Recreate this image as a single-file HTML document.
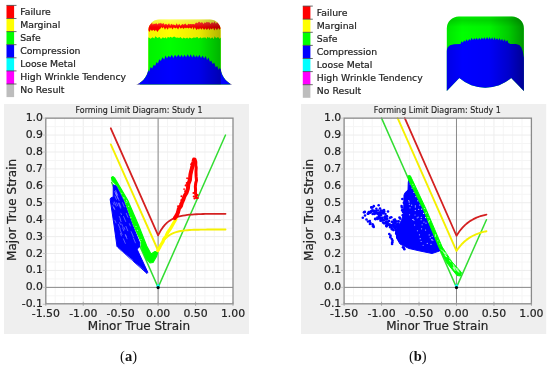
<!DOCTYPE html>
<html><head><meta charset="utf-8"><style>
html,body{margin:0;padding:0;background:#fff;}
svg{display:block;}
text{stroke:#222;stroke-width:0.2px;paint-order:stroke;}
</style></head><body>
<svg width="550" height="367" viewBox="0 0 550 367" font-family="'DejaVu Sans', 'Liberation Sans', sans-serif">
<rect width="550" height="367" fill="#fff"/>
<rect x="6.50" y="5.40" width="7.6" height="13.10" fill="#ff0000"/>
<text x="20.20" y="14.80" font-size="9.3" fill="#222">Failure</text>
<rect x="6.50" y="18.50" width="7.6" height="13.10" fill="#ffff00"/>
<text x="20.20" y="27.90" font-size="9.3" fill="#222">Marginal</text>
<rect x="6.50" y="31.60" width="7.6" height="13.10" fill="#00ff00"/>
<text x="20.20" y="41.00" font-size="9.3" fill="#222">Safe</text>
<rect x="6.50" y="44.70" width="7.6" height="13.10" fill="#0000ff"/>
<text x="20.20" y="54.10" font-size="9.3" fill="#222">Compression</text>
<rect x="6.50" y="57.80" width="7.6" height="13.10" fill="#00ffff"/>
<text x="20.20" y="67.20" font-size="9.3" fill="#222">Loose Metal</text>
<rect x="6.50" y="70.90" width="7.6" height="13.10" fill="#ff00ff"/>
<text x="20.20" y="80.30" font-size="9.3" fill="#222">High Wrinkle Tendency</text>
<rect x="6.50" y="84.00" width="7.6" height="13.10" fill="#bdbdbd"/>
<text x="20.20" y="93.40" font-size="9.3" fill="#222">No Result</text>
<line x1="6.50" y1="5.40" x2="16.50" y2="5.40" stroke="#444" stroke-width="0.8"/>
<line x1="6.50" y1="18.50" x2="16.50" y2="18.50" stroke="#444" stroke-width="0.8"/>
<line x1="6.50" y1="31.60" x2="16.50" y2="31.60" stroke="#444" stroke-width="0.8"/>
<line x1="6.50" y1="44.70" x2="16.50" y2="44.70" stroke="#444" stroke-width="0.8"/>
<line x1="6.50" y1="57.80" x2="16.50" y2="57.80" stroke="#444" stroke-width="0.8"/>
<line x1="6.50" y1="70.90" x2="16.50" y2="70.90" stroke="#444" stroke-width="0.8"/>
<line x1="6.50" y1="84.00" x2="16.50" y2="84.00" stroke="#444" stroke-width="0.8"/>
<rect x="302.80" y="6.10" width="7.6" height="13.10" fill="#ff0000"/>
<text x="316.80" y="15.50" font-size="9.3" fill="#222">Failure</text>
<rect x="302.80" y="19.20" width="7.6" height="13.10" fill="#ffff00"/>
<text x="316.80" y="28.60" font-size="9.3" fill="#222">Marginal</text>
<rect x="302.80" y="32.30" width="7.6" height="13.10" fill="#00ff00"/>
<text x="316.80" y="41.70" font-size="9.3" fill="#222">Safe</text>
<rect x="302.80" y="45.40" width="7.6" height="13.10" fill="#0000ff"/>
<text x="316.80" y="54.80" font-size="9.3" fill="#222">Compression</text>
<rect x="302.80" y="58.50" width="7.6" height="13.10" fill="#00ffff"/>
<text x="316.80" y="67.90" font-size="9.3" fill="#222">Loose Metal</text>
<rect x="302.80" y="71.60" width="7.6" height="13.10" fill="#ff00ff"/>
<text x="316.80" y="81.00" font-size="9.3" fill="#222">High Wrinkle Tendency</text>
<rect x="302.80" y="84.70" width="7.6" height="13.10" fill="#bdbdbd"/>
<text x="316.80" y="94.10" font-size="9.3" fill="#222">No Result</text>
<line x1="302.80" y1="6.10" x2="312.80" y2="6.10" stroke="#444" stroke-width="0.8"/>
<line x1="302.80" y1="19.20" x2="312.80" y2="19.20" stroke="#444" stroke-width="0.8"/>
<line x1="302.80" y1="32.30" x2="312.80" y2="32.30" stroke="#444" stroke-width="0.8"/>
<line x1="302.80" y1="45.40" x2="312.80" y2="45.40" stroke="#444" stroke-width="0.8"/>
<line x1="302.80" y1="58.50" x2="312.80" y2="58.50" stroke="#444" stroke-width="0.8"/>
<line x1="302.80" y1="71.60" x2="312.80" y2="71.60" stroke="#444" stroke-width="0.8"/>
<line x1="302.80" y1="84.70" x2="312.80" y2="84.70" stroke="#444" stroke-width="0.8"/>
<defs><clipPath id="cl1"><path d="M148.3,68.6 L148.3,30.6 A11,11 0 0 1 159.3,19.6 L209.8,19.6 A11,11 0 0 1 220.8,30.6 L220.8,68.6 C220.8,77.6 229.8,84.6 232.6,84.6 L136.0,84.6 C139.3,84.6 148.3,77.6 148.3,68.6 Z"/></clipPath><linearGradient id="shL" x1="0" x2="1" y1="0" y2="0"><stop offset="0" stop-color="#000" stop-opacity="0.05"/><stop offset="0.3" stop-color="#000" stop-opacity="0"/><stop offset="0.7" stop-color="#000" stop-opacity="0.08"/><stop offset="1" stop-color="#000" stop-opacity="0.3"/></linearGradient><linearGradient id="topL" x1="0" x2="0" y1="0" y2="1"><stop offset="0" stop-color="#fff" stop-opacity="0.55"/><stop offset="1" stop-color="#fff" stop-opacity="0"/></linearGradient></defs>
<g clip-path="url(#cl1)">
<rect x="130" y="15" width="110" height="75" fill="#ffff00"/>
<polygon points="140.00,23.15 140.94,24.51 141.79,22.85 142.95,23.68 144.26,23.55 145.49,23.70 146.37,23.01 148.01,23.77 149.02,22.72 150.78,24.41 151.98,22.23 152.80,24.80 153.89,23.40 154.79,24.03 156.42,23.35 157.80,24.49 158.97,22.83 159.81,23.68 160.81,22.65 162.03,24.04 163.42,22.97 164.51,24.71 166.02,23.72 167.40,24.88 169.09,23.23 170.17,25.68 171.07,23.77 172.64,24.64 173.93,24.43 175.40,25.60 176.78,23.34 177.88,25.56 179.28,23.79 180.54,25.78 182.30,23.92 183.77,24.64 185.28,23.60 187.09,25.59 188.17,23.85 189.64,24.35 190.90,24.01 191.81,24.28 193.38,23.92 194.42,24.58 196.11,22.49 197.36,23.37 199.05,21.45 200.73,22.99 201.94,22.10 203.64,23.94 204.58,22.35 205.60,22.93 206.89,21.78 207.94,22.61 209.16,22.08 210.52,23.93 212.02,21.88 213.44,23.55 214.28,21.34 215.87,23.82 217.48,22.05 218.68,22.74 220.12,22.51 220.97,22.89 221.92,22.12 222.75,22.60 223.69,22.46 224.85,22.64 226.53,21.74 227.47,22.95 228.61,22.09 229.52,23.79 230.00,22.60 230.00,28.60 228.52,28.18 227.24,30.03 225.86,28.21 224.61,30.26 223.40,28.53 221.96,30.19 220.71,28.42 219.61,29.75 218.32,27.88 216.87,30.18 215.61,28.06 214.32,30.42 213.09,27.94 211.63,29.41 210.60,28.15 209.69,30.13 208.42,28.20 206.87,29.99 205.34,28.27 204.12,29.90 202.58,27.90 201.39,29.76 200.08,27.99 198.97,29.75 197.93,28.46 196.42,30.01 194.86,27.22 193.51,29.76 192.60,26.90 191.31,28.89 189.95,27.58 188.48,28.60 187.01,27.52 186.01,28.58 184.99,27.38 183.42,28.96 182.25,27.58 180.79,28.87 179.33,26.94 178.10,29.45 176.65,27.53 175.29,28.52 173.83,27.32 172.59,29.58 171.06,27.30 170.02,28.68 168.96,26.98 167.81,29.74 166.21,27.55 165.00,29.74 163.62,27.01 162.52,28.44 161.60,27.08 160.34,28.72 158.92,29.85 157.46,31.99 155.87,29.85 154.81,31.26 153.37,29.63 151.92,31.03 150.77,29.41 149.38,32.01 147.80,29.62 146.88,31.56 145.87,29.62 144.31,30.83 143.30,29.86 142.21,31.28 141.24,29.27 140.00,31.45" fill="#ff0000"/>
<polygon points="140.00,36.55 141.95,39.01 143.16,36.76 145.20,38.86 146.26,37.42 147.69,37.71 148.88,37.49 150.58,38.78 152.56,37.37 154.32,38.59 155.39,36.28 157.45,37.93 159.49,37.00 160.98,39.08 162.88,37.36 164.30,38.37 165.60,37.31 166.88,38.68 167.81,36.77 169.24,37.63 170.53,36.66 172.05,37.70 174.13,36.42 176.20,37.76 177.42,37.54 179.25,38.01 180.31,36.97 182.30,38.83 183.51,37.38 185.51,38.46 187.25,37.47 188.22,38.63 189.63,37.49 191.66,38.55 193.52,37.47 195.45,37.70 197.38,36.92 198.69,38.43 200.70,37.20 201.76,38.39 202.94,37.44 204.04,37.68 205.18,37.13 206.45,38.74 207.69,36.85 208.81,38.12 209.73,37.22 210.65,38.70 212.21,37.32 213.68,39.00 214.71,36.37 216.12,38.34 218.03,37.01 219.53,38.63 221.61,37.09 223.51,38.66 225.18,36.99 226.49,37.68 227.55,37.49 229.34,37.98 230.00,37.60 230.00,90.00 140.00,90.00" fill="#00ff00"/>
<polygon points="135.00,71.12 136.68,73.13 138.28,70.60 139.69,73.24 141.20,70.44 142.70,72.96 144.43,69.31 145.98,72.66 147.71,69.65 149.17,71.73 150.64,67.08 152.17,68.60 153.70,64.64 155.11,65.98 156.59,62.05 157.90,63.54 159.31,59.36 160.85,61.07 162.44,57.22 164.14,59.39 165.59,55.62 166.95,58.45 168.54,55.82 170.22,57.57 171.80,54.68 173.47,57.94 175.00,54.75 176.68,57.31 178.35,54.51 180.05,57.24 181.66,54.71 182.98,57.48 184.44,54.70 186.12,57.18 187.70,54.32 189.30,57.37 190.61,54.28 192.24,57.50 193.78,54.56 195.11,57.46 196.53,55.27 197.95,57.60 199.34,54.73 201.08,58.09 202.55,55.57 204.16,58.56 205.74,56.10 207.07,60.07 208.48,57.62 209.92,61.68 211.23,60.49 212.65,64.08 214.26,62.78 215.69,67.23 217.20,65.90 218.55,69.76 219.94,67.76 221.66,71.59 223.17,68.23 224.91,71.60 226.33,69.15 228.05,72.08 229.61,69.53 231.15,71.86 232.51,69.14 234.04,72.19 235.00,71.00 235.00,90.00 135.00,90.00" fill="#0000ff"/>
<rect x="130" y="15" width="110" height="12" fill="url(#topL)"/>
<rect x="148.3" y="15" width="72.5" height="75" fill="url(#shL)"/>
</g>
<defs><clipPath id="cl2"><path d="M446.8,90.9 L446.8,28.4 A12,12 0 0 1 458.8,16.4 L511.9,16.4 A12,12 0 0 1 523.9,28.4 L523.9,90.9 L511.2,78.1 A40 40 0 0 1 459.3,78.1 Z"/></clipPath><linearGradient id="shR" x1="0" x2="1" y1="0" y2="0"><stop offset="0" stop-color="#000" stop-opacity="0.1"/><stop offset="0.2" stop-color="#000" stop-opacity="0"/><stop offset="0.55" stop-color="#000" stop-opacity="0.03"/><stop offset="0.8" stop-color="#000" stop-opacity="0.2"/><stop offset="1" stop-color="#000" stop-opacity="0.42"/></linearGradient><linearGradient id="tpR" x1="0" x2="0" y1="0" y2="1"><stop offset="0" stop-color="#000" stop-opacity="0.04"/><stop offset="0.3" stop-color="#000" stop-opacity="0.14"/><stop offset="0.65" stop-color="#000" stop-opacity="0.02"/><stop offset="1" stop-color="#000" stop-opacity="0"/></linearGradient></defs>
<g clip-path="url(#cl2)">
<rect x="440" y="10" width="90" height="85" fill="#00ff00"/>
<rect x="440" y="15" width="90" height="18" fill="url(#tpR)"/>
<polygon points="440.00,52.00 446.50,50.50 447.80,47.20 450.00,45.20 454.00,44.20 460.50,44.00 461.50,41.30 462.87,42.71 464.03,40.23 465.30,41.84 466.53,39.37 467.77,41.27 469.13,38.92 470.46,40.55 471.64,37.76 472.97,40.17 474.19,37.89 475.44,39.86 476.74,37.65 478.00,39.94 479.16,37.70 480.52,39.79 481.90,37.46 483.12,39.62 484.31,37.31 485.70,39.45 487.06,37.11 488.43,39.46 489.72,37.10 490.88,39.63 492.15,37.19 493.46,39.97 494.62,37.23 495.80,40.09 497.04,37.97 498.37,40.18 499.59,38.01 500.81,40.71 502.06,38.82 503.25,41.31 504.63,39.13 505.83,41.70 507.23,39.97 508.42,42.97 510.50,43.90 516.00,44.10 519.30,45.00 521.30,47.30 522.80,51.50 523.80,57.00 525.00,60.00 525.00,95.00 440.00,95.00" fill="#0000ff"/>
<rect x="446.8" y="10" width="77.09999999999997" height="85" fill="url(#shR)"/>
</g>
<rect x="4.00" y="104.00" width="245.00" height="230.00" fill="#efefef"/>
<rect x="45.80" y="118.15" width="187.20" height="185.65" fill="#fff"/>
<line x1="55.16" y1="118.15" x2="55.16" y2="303.80" stroke="#f5f5f5" stroke-width="1"/>
<line x1="64.52" y1="118.15" x2="64.52" y2="303.80" stroke="#f5f5f5" stroke-width="1"/>
<line x1="73.88" y1="118.15" x2="73.88" y2="303.80" stroke="#f5f5f5" stroke-width="1"/>
<line x1="83.24" y1="118.15" x2="83.24" y2="303.80" stroke="#ededed" stroke-width="1"/>
<line x1="92.60" y1="118.15" x2="92.60" y2="303.80" stroke="#f5f5f5" stroke-width="1"/>
<line x1="101.96" y1="118.15" x2="101.96" y2="303.80" stroke="#f5f5f5" stroke-width="1"/>
<line x1="111.32" y1="118.15" x2="111.32" y2="303.80" stroke="#f5f5f5" stroke-width="1"/>
<line x1="120.68" y1="118.15" x2="120.68" y2="303.80" stroke="#ededed" stroke-width="1"/>
<line x1="130.04" y1="118.15" x2="130.04" y2="303.80" stroke="#f5f5f5" stroke-width="1"/>
<line x1="139.40" y1="118.15" x2="139.40" y2="303.80" stroke="#f5f5f5" stroke-width="1"/>
<line x1="148.76" y1="118.15" x2="148.76" y2="303.80" stroke="#f5f5f5" stroke-width="1"/>
<line x1="158.12" y1="118.15" x2="158.12" y2="303.80" stroke="#ededed" stroke-width="1"/>
<line x1="167.48" y1="118.15" x2="167.48" y2="303.80" stroke="#f5f5f5" stroke-width="1"/>
<line x1="176.84" y1="118.15" x2="176.84" y2="303.80" stroke="#f5f5f5" stroke-width="1"/>
<line x1="186.20" y1="118.15" x2="186.20" y2="303.80" stroke="#f5f5f5" stroke-width="1"/>
<line x1="195.56" y1="118.15" x2="195.56" y2="303.80" stroke="#ededed" stroke-width="1"/>
<line x1="204.92" y1="118.15" x2="204.92" y2="303.80" stroke="#f5f5f5" stroke-width="1"/>
<line x1="214.28" y1="118.15" x2="214.28" y2="303.80" stroke="#f5f5f5" stroke-width="1"/>
<line x1="223.64" y1="118.15" x2="223.64" y2="303.80" stroke="#f5f5f5" stroke-width="1"/>
<line x1="45.80" y1="295.84" x2="233.00" y2="295.84" stroke="#f5f5f5" stroke-width="1"/>
<line x1="45.80" y1="287.38" x2="233.00" y2="287.38" stroke="#ededed" stroke-width="1"/>
<line x1="45.80" y1="278.92" x2="233.00" y2="278.92" stroke="#f5f5f5" stroke-width="1"/>
<line x1="45.80" y1="270.45" x2="233.00" y2="270.45" stroke="#ededed" stroke-width="1"/>
<line x1="45.80" y1="261.99" x2="233.00" y2="261.99" stroke="#f5f5f5" stroke-width="1"/>
<line x1="45.80" y1="253.53" x2="233.00" y2="253.53" stroke="#ededed" stroke-width="1"/>
<line x1="45.80" y1="245.07" x2="233.00" y2="245.07" stroke="#f5f5f5" stroke-width="1"/>
<line x1="45.80" y1="236.61" x2="233.00" y2="236.61" stroke="#ededed" stroke-width="1"/>
<line x1="45.80" y1="228.15" x2="233.00" y2="228.15" stroke="#f5f5f5" stroke-width="1"/>
<line x1="45.80" y1="219.69" x2="233.00" y2="219.69" stroke="#ededed" stroke-width="1"/>
<line x1="45.80" y1="211.23" x2="233.00" y2="211.23" stroke="#f5f5f5" stroke-width="1"/>
<line x1="45.80" y1="202.76" x2="233.00" y2="202.76" stroke="#ededed" stroke-width="1"/>
<line x1="45.80" y1="194.30" x2="233.00" y2="194.30" stroke="#f5f5f5" stroke-width="1"/>
<line x1="45.80" y1="185.84" x2="233.00" y2="185.84" stroke="#ededed" stroke-width="1"/>
<line x1="45.80" y1="177.38" x2="233.00" y2="177.38" stroke="#f5f5f5" stroke-width="1"/>
<line x1="45.80" y1="168.92" x2="233.00" y2="168.92" stroke="#ededed" stroke-width="1"/>
<line x1="45.80" y1="160.46" x2="233.00" y2="160.46" stroke="#f5f5f5" stroke-width="1"/>
<line x1="45.80" y1="152.00" x2="233.00" y2="152.00" stroke="#ededed" stroke-width="1"/>
<line x1="45.80" y1="143.53" x2="233.00" y2="143.53" stroke="#f5f5f5" stroke-width="1"/>
<line x1="45.80" y1="135.07" x2="233.00" y2="135.07" stroke="#ededed" stroke-width="1"/>
<line x1="45.80" y1="126.61" x2="233.00" y2="126.61" stroke="#f5f5f5" stroke-width="1"/>
<line x1="158.12" y1="118.15" x2="158.12" y2="303.80" stroke="#8a8a8a" stroke-width="1"/>
<line x1="45.80" y1="287.38" x2="233.00" y2="287.38" stroke="#8a8a8a" stroke-width="1"/>
<polyline points="111.69,182.46 158.12,287.38 225.51,135.07" fill="none" stroke="#33dd33" stroke-width="1.5" stroke-linejoin="round" stroke-linecap="round"/>
<polyline points="110.80,128.30 158.12,235.42 160.37,231.11 162.61,227.65 164.86,224.88 167.11,222.67 169.35,220.89 171.60,219.47 173.84,218.34 176.09,217.42 178.34,216.69 180.58,216.11 182.83,215.64 185.08,215.27 187.32,214.97 189.57,214.73 191.82,214.54 194.06,214.38 196.31,214.26 198.56,214.16 200.80,214.08 203.05,214.02 205.29,213.97 207.54,213.93 209.79,213.89 212.03,213.87 214.28,213.85 216.53,213.83 218.77,213.82 221.02,213.81 223.27,213.80 225.51,213.79" fill="none" stroke="#d42020" stroke-width="1.8" stroke-linejoin="round" stroke-linecap="round"/>
<polyline points="110.80,144.38 158.12,250.49 160.37,245.67 162.61,241.96 164.86,239.10 167.11,236.89 169.35,235.20 171.60,233.89 173.84,232.88 176.09,232.10 178.34,231.51 180.58,231.05 182.83,230.69 185.08,230.42 187.32,230.21 189.57,230.05 191.82,229.92 194.06,229.82 196.31,229.75 198.56,229.69 200.80,229.65 203.05,229.62 205.29,229.59 207.54,229.57 209.79,229.55 212.03,229.54 214.28,229.53 216.53,229.53 218.77,229.52 221.02,229.52 223.27,229.51 225.51,229.51" fill="none" stroke="#f5f000" stroke-width="1.9" stroke-linejoin="round" stroke-linecap="round"/>
<polygon points="113.20,184.80 116.50,186.00 123.50,200.00 132.50,225.00 139.80,243.00 139.60,247.00 137.00,249.00 147.80,272.30 147.00,273.50 118.00,247.50 117.00,246.50 115.80,238.00 114.00,225.00 110.20,199.50 110.50,198.20 113.20,196.80" fill="#0000ff" stroke="#0000ff" stroke-width="1" stroke-linejoin="round"/>
<polygon points="111.50,177.60 113.00,176.60 114.80,178.20 127.60,200.00 138.40,225.00 146.70,246.00 151.00,254.00 155.00,251.50 157.80,252.30 156.50,256.50 153.00,262.50 150.00,262.80 146.50,259.00 142.00,249.00 140.80,241.00 133.60,225.00 124.60,200.00 117.60,186.00 112.00,180.50" fill="#00ff00" stroke="#00ff00" stroke-width="1.2" stroke-linejoin="round"/>
<line x1="113.76" y1="207.10" x2="115.00" y2="210.05" stroke="#a4a4ff" stroke-width="0.55"/>
<line x1="118.33" y1="202.92" x2="120.66" y2="208.47" stroke="#a4a4ff" stroke-width="0.55"/>
<line x1="122.40" y1="227.48" x2="123.94" y2="231.14" stroke="#a4a4ff" stroke-width="0.55"/>
<line x1="119.22" y1="216.21" x2="120.63" y2="219.56" stroke="#a4a4ff" stroke-width="0.55"/>
<line x1="115.62" y1="193.10" x2="118.09" y2="198.97" stroke="#a4a4ff" stroke-width="0.55"/>
<line x1="117.34" y1="196.29" x2="119.24" y2="200.81" stroke="#a4a4ff" stroke-width="0.55"/>
<line x1="120.33" y1="233.14" x2="121.62" y2="236.23" stroke="#a4a4ff" stroke-width="0.55"/>
<line x1="116.35" y1="202.42" x2="117.93" y2="206.21" stroke="#a4a4ff" stroke-width="0.55"/>
<line x1="133.27" y1="237.70" x2="135.58" y2="243.19" stroke="#a4a4ff" stroke-width="0.55"/>
<line x1="114.60" y1="191.09" x2="116.63" y2="195.93" stroke="#a4a4ff" stroke-width="0.55"/>
<line x1="125.36" y1="234.78" x2="127.18" y2="239.13" stroke="#a4a4ff" stroke-width="0.55"/>
<line x1="115.48" y1="190.01" x2="117.88" y2="195.72" stroke="#a4a4ff" stroke-width="0.55"/>
<line x1="131.04" y1="231.28" x2="133.51" y2="237.17" stroke="#a4a4ff" stroke-width="0.55"/>
<line x1="113.18" y1="202.42" x2="114.28" y2="205.04" stroke="#a4a4ff" stroke-width="0.55"/>
<line x1="123.41" y1="216.12" x2="125.83" y2="221.88" stroke="#a4a4ff" stroke-width="0.55"/>
<line x1="125.80" y1="226.09" x2="127.93" y2="231.15" stroke="#a4a4ff" stroke-width="0.55"/>
<line x1="120.75" y1="212.87" x2="121.66" y2="215.02" stroke="#a4a4ff" stroke-width="0.55"/>
<line x1="119.79" y1="229.11" x2="122.18" y2="234.79" stroke="#a4a4ff" stroke-width="0.55"/>
<line x1="119.49" y1="222.28" x2="120.54" y2="224.79" stroke="#a4a4ff" stroke-width="0.55"/>
<line x1="118.96" y1="202.59" x2="120.98" y2="207.38" stroke="#a4a4ff" stroke-width="0.55"/>
<line x1="114.87" y1="195.61" x2="116.59" y2="199.70" stroke="#a4a4ff" stroke-width="0.55"/>
<line x1="120.05" y1="219.14" x2="121.26" y2="222.04" stroke="#a4a4ff" stroke-width="0.55"/>
<line x1="114.72" y1="220.05" x2="116.07" y2="223.26" stroke="#a4a4ff" stroke-width="0.55"/>
<line x1="126.15" y1="213.03" x2="128.08" y2="217.61" stroke="#a4a4ff" stroke-width="0.55"/>
<line x1="125.23" y1="234.19" x2="126.47" y2="237.13" stroke="#a4a4ff" stroke-width="0.55"/>
<line x1="122.42" y1="202.35" x2="124.44" y2="207.17" stroke="#a4a4ff" stroke-width="0.55"/>
<line x1="112.68" y1="205.37" x2="114.36" y2="209.36" stroke="#a4a4ff" stroke-width="0.55"/>
<line x1="121.59" y1="223.72" x2="122.86" y2="226.75" stroke="#a4a4ff" stroke-width="0.55"/>
<line x1="129.26" y1="223.37" x2="130.48" y2="226.27" stroke="#a4a4ff" stroke-width="0.55"/>
<line x1="115.63" y1="191.70" x2="117.18" y2="195.39" stroke="#a4a4ff" stroke-width="0.55"/>
<line x1="118.24" y1="224.13" x2="120.42" y2="229.32" stroke="#a4a4ff" stroke-width="0.55"/>
<line x1="123.76" y1="226.96" x2="124.95" y2="229.78" stroke="#a4a4ff" stroke-width="0.55"/>
<line x1="123.25" y1="238.49" x2="125.47" y2="243.77" stroke="#a4a4ff" stroke-width="0.55"/>
<line x1="114.24" y1="201.54" x2="116.35" y2="206.58" stroke="#a4a4ff" stroke-width="0.55"/>
<circle cx="128.63" cy="206.22" r="0.5" fill="#c4ffc4"/>
<circle cx="130.93" cy="217.27" r="0.5" fill="#c4ffc4"/>
<circle cx="126.04" cy="202.28" r="0.5" fill="#c4ffc4"/>
<circle cx="136.03" cy="226.59" r="0.5" fill="#c4ffc4"/>
<circle cx="124.19" cy="198.05" r="0.5" fill="#c4ffc4"/>
<circle cx="127.06" cy="201.71" r="0.5" fill="#c4ffc4"/>
<circle cx="123.32" cy="197.81" r="0.5" fill="#c4ffc4"/>
<circle cx="121.82" cy="193.31" r="0.5" fill="#c4ffc4"/>
<circle cx="141.08" cy="239.40" r="0.5" fill="#c4ffc4"/>
<circle cx="137.64" cy="230.30" r="0.5" fill="#c4ffc4"/>
<circle cx="140.61" cy="241.24" r="0.5" fill="#c4ffc4"/>
<circle cx="126.43" cy="200.20" r="0.5" fill="#c4ffc4"/>
<line x1="138.90" y1="265.91" x2="143.90" y2="269.91" stroke="#7070ff" stroke-width="0.4"/>
<line x1="118.89" y1="248.77" x2="123.89" y2="252.77" stroke="#7070ff" stroke-width="0.4"/>
<line x1="136.60" y1="263.95" x2="141.60" y2="267.95" stroke="#7070ff" stroke-width="0.4"/>
<line x1="128.60" y1="257.09" x2="133.60" y2="261.09" stroke="#7070ff" stroke-width="0.4"/>
<line x1="128.47" y1="256.97" x2="133.47" y2="260.97" stroke="#7070ff" stroke-width="0.4"/>
<line x1="127.29" y1="255.96" x2="132.29" y2="259.96" stroke="#7070ff" stroke-width="0.4"/>
<line x1="122.74" y1="252.06" x2="127.74" y2="256.06" stroke="#7070ff" stroke-width="0.4"/>
<line x1="118.08" y1="248.07" x2="123.08" y2="252.07" stroke="#7070ff" stroke-width="0.4"/>
<line x1="125.83" y1="254.72" x2="130.83" y2="258.72" stroke="#7070ff" stroke-width="0.4"/>
<line x1="127.84" y1="256.44" x2="132.84" y2="260.44" stroke="#7070ff" stroke-width="0.4"/>
<polyline points="157.76,250.62 159.50,247.71 160.64,245.32 162.84,241.93 163.81,238.97 165.87,236.42 167.69,232.46 170.40,228.73 171.91,226.11 174.27,221.94 176.00,219.00" fill="none" stroke="#ffff00" stroke-width="3.2" stroke-linejoin="round" stroke-linecap="round"/>
<polyline points="174.78,218.11 176.84,215.11 177.96,212.53 178.86,208.80 180.88,206.11 181.72,203.19 183.23,199.80 184.32,196.56 186.51,192.79 187.90,188.57 188.26,184.31 189.91,180.08 190.40,174.78 191.20,170.99 192.42,166.71 193.07,163.21 193.49,162.08 193.70,160.51 194.00,159.50" fill="none" stroke="#ff0000" stroke-width="4.0" stroke-linejoin="round" stroke-linecap="round"/>
<polyline points="195.06,159.39 195.83,162.00 195.76,165.37 196.20,167.65 195.96,172.04 196.13,176.38 196.51,180.39 195.75,183.00 195.34,186.67 195.57,189.96 195.39,192.43 195.90,195.14 196.00,197.50" fill="none" stroke="#ff0000" stroke-width="3.0" stroke-linejoin="round" stroke-linecap="round"/>
<circle cx="189.95" cy="174.63" r="0.9" fill="#ff0000"/>
<circle cx="178.52" cy="211.02" r="0.9" fill="#ff0000"/>
<circle cx="185.51" cy="185.43" r="0.9" fill="#ff0000"/>
<circle cx="178.52" cy="206.34" r="0.9" fill="#ff0000"/>
<circle cx="179.21" cy="209.58" r="0.9" fill="#ff0000"/>
<circle cx="181.19" cy="200.03" r="0.9" fill="#ff0000"/>
<circle cx="184.09" cy="189.06" r="0.9" fill="#ff0000"/>
<circle cx="188.57" cy="179.32" r="0.9" fill="#ff0000"/>
<circle cx="184.91" cy="191.03" r="0.9" fill="#ff0000"/>
<circle cx="191.04" cy="164.22" r="0.9" fill="#ff0000"/>
<circle cx="176.92" cy="212.22" r="0.9" fill="#ff0000"/>
<circle cx="187.15" cy="183.89" r="0.9" fill="#ff0000"/>
<circle cx="191.14" cy="167.01" r="0.9" fill="#ff0000"/>
<circle cx="190.73" cy="171.98" r="0.9" fill="#ff0000"/>
<circle cx="186.64" cy="182.88" r="0.9" fill="#ff0000"/>
<circle cx="181.35" cy="196.27" r="0.9" fill="#ff0000"/>
<circle cx="180.38" cy="203.70" r="0.9" fill="#ff0000"/>
<circle cx="178.03" cy="206.22" r="0.9" fill="#ff0000"/>
<circle cx="187.09" cy="178.18" r="0.9" fill="#ff0000"/>
<circle cx="179.91" cy="206.58" r="0.9" fill="#ff0000"/>
<circle cx="175.69" cy="214.60" r="0.9" fill="#ff0000"/>
<circle cx="185.85" cy="185.39" r="0.9" fill="#ff0000"/>
<circle cx="193.80" cy="196.50" r="1.1" fill="#ff0000"/>
<circle cx="194.50" cy="198.50" r="1.1" fill="#ff0000"/>
<circle cx="197.50" cy="195.00" r="1.1" fill="#ff0000"/>
<circle cx="197.80" cy="198.00" r="1.1" fill="#ff0000"/>
<circle cx="193.50" cy="193.00" r="1.1" fill="#ff0000"/>
<circle cx="158.12" cy="285.98" r="1.7" fill="#00ffff"/>
<circle cx="158.12" cy="287.58" r="1.6" fill="#000"/>
<rect x="45.80" y="118.15" width="187.20" height="185.65" fill="none" stroke="#8a8a8a" stroke-width="1.3"/>
<line x1="42.80" y1="304.30" x2="45.80" y2="304.30" stroke="#bbb" stroke-width="0.8"/>
<text x="43.00" y="307.30" font-size="10.9" text-anchor="end" fill="#222">-0.1</text>
<line x1="42.80" y1="287.38" x2="45.80" y2="287.38" stroke="#bbb" stroke-width="0.8"/>
<text x="43.00" y="290.38" font-size="10.9" text-anchor="end" fill="#222">0.0</text>
<line x1="42.80" y1="270.45" x2="45.80" y2="270.45" stroke="#bbb" stroke-width="0.8"/>
<text x="43.00" y="273.45" font-size="10.9" text-anchor="end" fill="#222">0.1</text>
<line x1="42.80" y1="253.53" x2="45.80" y2="253.53" stroke="#bbb" stroke-width="0.8"/>
<text x="43.00" y="256.53" font-size="10.9" text-anchor="end" fill="#222">0.2</text>
<line x1="42.80" y1="236.61" x2="45.80" y2="236.61" stroke="#bbb" stroke-width="0.8"/>
<text x="43.00" y="239.61" font-size="10.9" text-anchor="end" fill="#222">0.3</text>
<line x1="42.80" y1="219.69" x2="45.80" y2="219.69" stroke="#bbb" stroke-width="0.8"/>
<text x="43.00" y="222.69" font-size="10.9" text-anchor="end" fill="#222">0.4</text>
<line x1="42.80" y1="202.76" x2="45.80" y2="202.76" stroke="#bbb" stroke-width="0.8"/>
<text x="43.00" y="205.76" font-size="10.9" text-anchor="end" fill="#222">0.5</text>
<line x1="42.80" y1="185.84" x2="45.80" y2="185.84" stroke="#bbb" stroke-width="0.8"/>
<text x="43.00" y="188.84" font-size="10.9" text-anchor="end" fill="#222">0.6</text>
<line x1="42.80" y1="168.92" x2="45.80" y2="168.92" stroke="#bbb" stroke-width="0.8"/>
<text x="43.00" y="171.92" font-size="10.9" text-anchor="end" fill="#222">0.7</text>
<line x1="42.80" y1="152.00" x2="45.80" y2="152.00" stroke="#bbb" stroke-width="0.8"/>
<text x="43.00" y="155.00" font-size="10.9" text-anchor="end" fill="#222">0.8</text>
<line x1="42.80" y1="135.07" x2="45.80" y2="135.07" stroke="#bbb" stroke-width="0.8"/>
<text x="43.00" y="138.07" font-size="10.9" text-anchor="end" fill="#222">0.9</text>
<line x1="42.80" y1="118.15" x2="45.80" y2="118.15" stroke="#bbb" stroke-width="0.8"/>
<text x="43.00" y="121.15" font-size="10.9" text-anchor="end" fill="#222">1.0</text>
<line x1="45.80" y1="301.80" x2="45.80" y2="305.80" stroke="#999" stroke-width="0.8"/>
<text x="45.80" y="316.7" font-size="10.9" text-anchor="middle" fill="#222">-1.50</text>
<line x1="83.24" y1="301.80" x2="83.24" y2="305.80" stroke="#999" stroke-width="0.8"/>
<text x="83.24" y="316.7" font-size="10.9" text-anchor="middle" fill="#222">-1.00</text>
<line x1="120.68" y1="301.80" x2="120.68" y2="305.80" stroke="#999" stroke-width="0.8"/>
<text x="120.68" y="316.7" font-size="10.9" text-anchor="middle" fill="#222">-0.50</text>
<line x1="158.12" y1="301.80" x2="158.12" y2="305.80" stroke="#999" stroke-width="0.8"/>
<text x="158.12" y="316.7" font-size="10.9" text-anchor="middle" fill="#222">0.00</text>
<line x1="195.56" y1="301.80" x2="195.56" y2="305.80" stroke="#999" stroke-width="0.8"/>
<text x="195.56" y="316.7" font-size="10.9" text-anchor="middle" fill="#222">0.50</text>
<line x1="233.00" y1="301.80" x2="233.00" y2="305.80" stroke="#999" stroke-width="0.8"/>
<text x="233.00" y="316.7" font-size="10.9" text-anchor="middle" fill="#222">1.00</text>
<text x="139.00" y="112.95" font-size="8.4" text-anchor="middle" fill="#222" style="stroke-width:0.12px" textLength="127" lengthAdjust="spacingAndGlyphs">Forming Limit Diagram: Study 1</text>
<text x="138.90" y="329.90" font-size="12" text-anchor="middle" fill="#222">Minor True Strain</text>
<text transform="translate(16.20,209.90) rotate(-90)" font-size="12" text-anchor="middle" fill="#222">Major True Strain</text>
<text x="128.55" y="360.8" font-family="'Liberation Serif', serif" font-size="14.5" text-anchor="middle" fill="#111" style="stroke:none">(<tspan font-weight="bold">a</tspan>)</text>
<rect x="301.00" y="104.00" width="245.20" height="230.00" fill="#efefef"/>
<rect x="344.10" y="118.15" width="187.30" height="185.65" fill="#fff"/>
<line x1="353.47" y1="118.15" x2="353.47" y2="303.80" stroke="#f5f5f5" stroke-width="1"/>
<line x1="362.83" y1="118.15" x2="362.83" y2="303.80" stroke="#f5f5f5" stroke-width="1"/>
<line x1="372.19" y1="118.15" x2="372.19" y2="303.80" stroke="#f5f5f5" stroke-width="1"/>
<line x1="381.56" y1="118.15" x2="381.56" y2="303.80" stroke="#ededed" stroke-width="1"/>
<line x1="390.93" y1="118.15" x2="390.93" y2="303.80" stroke="#f5f5f5" stroke-width="1"/>
<line x1="400.29" y1="118.15" x2="400.29" y2="303.80" stroke="#f5f5f5" stroke-width="1"/>
<line x1="409.66" y1="118.15" x2="409.66" y2="303.80" stroke="#f5f5f5" stroke-width="1"/>
<line x1="419.02" y1="118.15" x2="419.02" y2="303.80" stroke="#ededed" stroke-width="1"/>
<line x1="428.38" y1="118.15" x2="428.38" y2="303.80" stroke="#f5f5f5" stroke-width="1"/>
<line x1="437.75" y1="118.15" x2="437.75" y2="303.80" stroke="#f5f5f5" stroke-width="1"/>
<line x1="447.12" y1="118.15" x2="447.12" y2="303.80" stroke="#f5f5f5" stroke-width="1"/>
<line x1="456.48" y1="118.15" x2="456.48" y2="303.80" stroke="#ededed" stroke-width="1"/>
<line x1="465.85" y1="118.15" x2="465.85" y2="303.80" stroke="#f5f5f5" stroke-width="1"/>
<line x1="475.21" y1="118.15" x2="475.21" y2="303.80" stroke="#f5f5f5" stroke-width="1"/>
<line x1="484.57" y1="118.15" x2="484.57" y2="303.80" stroke="#f5f5f5" stroke-width="1"/>
<line x1="493.94" y1="118.15" x2="493.94" y2="303.80" stroke="#ededed" stroke-width="1"/>
<line x1="503.31" y1="118.15" x2="503.31" y2="303.80" stroke="#f5f5f5" stroke-width="1"/>
<line x1="512.67" y1="118.15" x2="512.67" y2="303.80" stroke="#f5f5f5" stroke-width="1"/>
<line x1="522.03" y1="118.15" x2="522.03" y2="303.80" stroke="#f5f5f5" stroke-width="1"/>
<line x1="344.10" y1="295.84" x2="531.40" y2="295.84" stroke="#f5f5f5" stroke-width="1"/>
<line x1="344.10" y1="287.38" x2="531.40" y2="287.38" stroke="#ededed" stroke-width="1"/>
<line x1="344.10" y1="278.92" x2="531.40" y2="278.92" stroke="#f5f5f5" stroke-width="1"/>
<line x1="344.10" y1="270.45" x2="531.40" y2="270.45" stroke="#ededed" stroke-width="1"/>
<line x1="344.10" y1="261.99" x2="531.40" y2="261.99" stroke="#f5f5f5" stroke-width="1"/>
<line x1="344.10" y1="253.53" x2="531.40" y2="253.53" stroke="#ededed" stroke-width="1"/>
<line x1="344.10" y1="245.07" x2="531.40" y2="245.07" stroke="#f5f5f5" stroke-width="1"/>
<line x1="344.10" y1="236.61" x2="531.40" y2="236.61" stroke="#ededed" stroke-width="1"/>
<line x1="344.10" y1="228.15" x2="531.40" y2="228.15" stroke="#f5f5f5" stroke-width="1"/>
<line x1="344.10" y1="219.69" x2="531.40" y2="219.69" stroke="#ededed" stroke-width="1"/>
<line x1="344.10" y1="211.23" x2="531.40" y2="211.23" stroke="#f5f5f5" stroke-width="1"/>
<line x1="344.10" y1="202.76" x2="531.40" y2="202.76" stroke="#ededed" stroke-width="1"/>
<line x1="344.10" y1="194.30" x2="531.40" y2="194.30" stroke="#f5f5f5" stroke-width="1"/>
<line x1="344.10" y1="185.84" x2="531.40" y2="185.84" stroke="#ededed" stroke-width="1"/>
<line x1="344.10" y1="177.38" x2="531.40" y2="177.38" stroke="#f5f5f5" stroke-width="1"/>
<line x1="344.10" y1="168.92" x2="531.40" y2="168.92" stroke="#ededed" stroke-width="1"/>
<line x1="344.10" y1="160.46" x2="531.40" y2="160.46" stroke="#f5f5f5" stroke-width="1"/>
<line x1="344.10" y1="152.00" x2="531.40" y2="152.00" stroke="#ededed" stroke-width="1"/>
<line x1="344.10" y1="143.53" x2="531.40" y2="143.53" stroke="#f5f5f5" stroke-width="1"/>
<line x1="344.10" y1="135.07" x2="531.40" y2="135.07" stroke="#ededed" stroke-width="1"/>
<line x1="344.10" y1="126.61" x2="531.40" y2="126.61" stroke="#f5f5f5" stroke-width="1"/>
<line x1="456.48" y1="118.15" x2="456.48" y2="303.80" stroke="#8a8a8a" stroke-width="1"/>
<line x1="344.10" y1="287.38" x2="531.40" y2="287.38" stroke="#8a8a8a" stroke-width="1"/>
<polyline points="381.56,118.15 456.48,287.38 486.45,219.69" fill="none" stroke="#33dd33" stroke-width="1.5" stroke-linejoin="round" stroke-linecap="round"/>
<polyline points="404.79,118.15 456.48,235.76 457.48,234.18 458.48,232.70 459.48,231.31 460.48,230.02 461.47,228.81 462.47,227.67 463.47,226.61 464.47,225.62 465.47,224.69 466.47,223.82 467.47,223.01 468.47,222.25 469.47,221.54 470.47,220.87 471.46,220.25 472.46,219.67 473.46,219.13 474.46,218.62 475.46,218.14 476.46,217.69 477.46,217.28 478.46,216.89 479.46,216.52 480.45,216.18 481.45,215.86 482.45,215.56 483.45,215.28 484.45,215.02 485.45,214.77 486.45,214.55" fill="none" stroke="#d42020" stroke-width="1.8" stroke-linejoin="round" stroke-linecap="round"/>
<polyline points="397.67,118.15 456.48,250.99 457.48,249.52 458.48,248.14 459.48,246.85 460.48,245.65 461.47,244.52 462.47,243.46 463.47,242.47 464.47,241.55 465.47,240.69 466.47,239.88 467.47,239.12 468.47,238.41 469.47,237.75 470.47,237.13 471.46,236.55 472.46,236.01 473.46,235.50 474.46,235.03 475.46,234.58 476.46,234.17 477.46,233.78 478.46,233.42 479.46,233.08 480.45,232.76 481.45,232.46 482.45,232.18 483.45,231.92 484.45,231.68 485.45,231.45 486.45,231.24" fill="none" stroke="#f5f000" stroke-width="1.9" stroke-linejoin="round" stroke-linecap="round"/>
<polygon points="409.00,179.50 410.50,180.00 423.80,209.20 439.60,247.00 439.50,251.00 432.00,253.50 420.00,251.00 409.00,248.50 400.00,244.00 396.50,238.00 396.50,231.00 399.00,225.00 402.00,219.00 403.50,213.00 403.80,205.00 404.00,195.00 405.20,192.50 408.00,190.00 408.30,182.00" fill="#0000ff" stroke="#0000ff" stroke-width="1" stroke-linejoin="round"/>
<circle cx="409.99" cy="207.86" r="0.6" fill="#b4b4ff"/>
<circle cx="421.15" cy="219.67" r="0.6" fill="#b4b4ff"/>
<circle cx="409.53" cy="214.76" r="0.6" fill="#b4b4ff"/>
<circle cx="415.05" cy="214.99" r="0.6" fill="#b4b4ff"/>
<circle cx="418.13" cy="217.14" r="0.6" fill="#b4b4ff"/>
<circle cx="421.13" cy="241.48" r="0.6" fill="#b4b4ff"/>
<circle cx="421.35" cy="217.46" r="0.6" fill="#b4b4ff"/>
<circle cx="429.24" cy="234.95" r="0.6" fill="#b4b4ff"/>
<circle cx="413.94" cy="220.34" r="0.6" fill="#b4b4ff"/>
<circle cx="412.68" cy="219.50" r="0.6" fill="#b4b4ff"/>
<circle cx="423.96" cy="222.12" r="0.6" fill="#b4b4ff"/>
<circle cx="408.74" cy="200.71" r="0.6" fill="#b4b4ff"/>
<circle cx="417.44" cy="230.75" r="0.6" fill="#b4b4ff"/>
<circle cx="409.38" cy="204.27" r="0.6" fill="#b4b4ff"/>
<circle cx="417.20" cy="217.80" r="0.6" fill="#b4b4ff"/>
<circle cx="415.37" cy="207.00" r="0.6" fill="#b4b4ff"/>
<circle cx="414.60" cy="225.02" r="0.6" fill="#b4b4ff"/>
<circle cx="411.65" cy="205.22" r="0.6" fill="#b4b4ff"/>
<circle cx="420.24" cy="238.63" r="0.6" fill="#b4b4ff"/>
<circle cx="418.69" cy="209.47" r="0.6" fill="#b4b4ff"/>
<circle cx="423.15" cy="245.27" r="0.6" fill="#b4b4ff"/>
<circle cx="425.97" cy="223.17" r="0.6" fill="#b4b4ff"/>
<circle cx="431.01" cy="244.46" r="0.6" fill="#b4b4ff"/>
<circle cx="427.27" cy="243.40" r="0.6" fill="#b4b4ff"/>
<circle cx="431.97" cy="239.58" r="0.6" fill="#b4b4ff"/>
<circle cx="430.25" cy="237.72" r="0.6" fill="#b4b4ff"/>
<circle cx="413.15" cy="219.42" r="0.6" fill="#b4b4ff"/>
<circle cx="431.75" cy="239.80" r="0.6" fill="#b4b4ff"/>
<circle cx="415.32" cy="210.47" r="0.6" fill="#b4b4ff"/>
<circle cx="422.12" cy="224.86" r="0.6" fill="#b4b4ff"/>
<circle cx="415.37" cy="205.91" r="0.6" fill="#b4b4ff"/>
<circle cx="419.46" cy="234.79" r="0.6" fill="#b4b4ff"/>
<circle cx="409.16" cy="201.97" r="0.6" fill="#b4b4ff"/>
<circle cx="432.21" cy="236.36" r="0.6" fill="#b4b4ff"/>
<circle cx="432.86" cy="240.23" r="0.6" fill="#b4b4ff"/>
<circle cx="421.58" cy="228.78" r="0.6" fill="#b4b4ff"/>
<circle cx="425.59" cy="230.10" r="0.6" fill="#b4b4ff"/>
<circle cx="410.23" cy="184.00" r="0.6" fill="#ffffff"/>
<circle cx="412.15" cy="188.20" r="0.6" fill="#ffffff"/>
<circle cx="414.06" cy="192.40" r="0.6" fill="#ffffff"/>
<circle cx="415.98" cy="196.60" r="0.6" fill="#ffffff"/>
<circle cx="417.90" cy="200.80" r="0.6" fill="#ffffff"/>
<circle cx="419.82" cy="205.00" r="0.6" fill="#ffffff"/>
<circle cx="421.74" cy="209.20" r="0.6" fill="#ffffff"/>
<circle cx="423.65" cy="213.40" r="0.6" fill="#ffffff"/>
<circle cx="425.57" cy="217.60" r="0.6" fill="#ffffff"/>
<circle cx="368.29" cy="213.65" r="1.3" fill="#0000ff"/>
<circle cx="367.81" cy="213.72" r="1.3" fill="#0000ff"/>
<circle cx="368.75" cy="212.92" r="1.3" fill="#0000ff"/>
<circle cx="376.40" cy="212.53" r="1.3" fill="#0000ff"/>
<circle cx="369.66" cy="212.13" r="1.3" fill="#0000ff"/>
<circle cx="372.47" cy="207.49" r="1.3" fill="#0000ff"/>
<circle cx="370.06" cy="212.42" r="1.3" fill="#0000ff"/>
<circle cx="370.50" cy="212.21" r="1.3" fill="#0000ff"/>
<circle cx="374.35" cy="213.99" r="1.3" fill="#0000ff"/>
<circle cx="374.90" cy="213.53" r="1.3" fill="#0000ff"/>
<circle cx="371.08" cy="211.95" r="1.3" fill="#0000ff"/>
<circle cx="371.13" cy="211.19" r="1.3" fill="#0000ff"/>
<circle cx="371.43" cy="207.52" r="1.3" fill="#0000ff"/>
<circle cx="370.93" cy="211.94" r="1.3" fill="#0000ff"/>
<circle cx="368.88" cy="211.94" r="1.3" fill="#0000ff"/>
<circle cx="373.65" cy="211.57" r="1.3" fill="#0000ff"/>
<circle cx="378.65" cy="205.22" r="1.3" fill="#0000ff"/>
<circle cx="371.34" cy="207.25" r="1.3" fill="#0000ff"/>
<circle cx="375.14" cy="218.90" r="1.3" fill="#0000ff"/>
<circle cx="363.99" cy="212.33" r="1.3" fill="#0000ff"/>
<circle cx="373.66" cy="211.21" r="1.3" fill="#0000ff"/>
<circle cx="373.77" cy="206.17" r="1.3" fill="#0000ff"/>
<circle cx="374.73" cy="212.97" r="1.3" fill="#0000ff"/>
<circle cx="372.07" cy="210.47" r="1.3" fill="#0000ff"/>
<circle cx="374.04" cy="210.74" r="1.3" fill="#0000ff"/>
<circle cx="372.71" cy="210.67" r="1.3" fill="#0000ff"/>
<circle cx="364.81" cy="211.92" r="1.3" fill="#0000ff"/>
<circle cx="372.65" cy="213.96" r="1.3" fill="#0000ff"/>
<circle cx="369.92" cy="223.95" r="1.3" fill="#0000ff"/>
<circle cx="372.61" cy="224.22" r="1.3" fill="#0000ff"/>
<circle cx="373.74" cy="226.99" r="1.3" fill="#0000ff"/>
<circle cx="369.86" cy="221.12" r="1.3" fill="#0000ff"/>
<circle cx="373.04" cy="226.29" r="1.3" fill="#0000ff"/>
<circle cx="373.16" cy="225.22" r="1.3" fill="#0000ff"/>
<circle cx="370.39" cy="222.93" r="1.3" fill="#0000ff"/>
<circle cx="398.23" cy="228.43" r="1.3" fill="#0000ff"/>
<circle cx="396.20" cy="233.54" r="1.3" fill="#0000ff"/>
<circle cx="391.59" cy="227.15" r="1.3" fill="#0000ff"/>
<circle cx="385.81" cy="218.66" r="1.3" fill="#0000ff"/>
<circle cx="386.97" cy="218.57" r="1.3" fill="#0000ff"/>
<circle cx="382.46" cy="210.91" r="1.3" fill="#0000ff"/>
<circle cx="395.44" cy="228.29" r="1.3" fill="#0000ff"/>
<circle cx="401.05" cy="231.21" r="1.3" fill="#0000ff"/>
<circle cx="382.01" cy="212.91" r="1.3" fill="#0000ff"/>
<circle cx="381.17" cy="215.08" r="1.3" fill="#0000ff"/>
<circle cx="391.28" cy="217.29" r="1.3" fill="#0000ff"/>
<circle cx="383.22" cy="211.40" r="1.3" fill="#0000ff"/>
<circle cx="376.34" cy="208.82" r="1.3" fill="#0000ff"/>
<circle cx="384.19" cy="220.22" r="1.3" fill="#0000ff"/>
<circle cx="389.66" cy="224.41" r="1.3" fill="#0000ff"/>
<circle cx="386.57" cy="226.34" r="1.3" fill="#0000ff"/>
<circle cx="381.09" cy="212.55" r="1.3" fill="#0000ff"/>
<circle cx="394.17" cy="227.10" r="1.3" fill="#0000ff"/>
<circle cx="385.47" cy="214.07" r="1.3" fill="#0000ff"/>
<circle cx="392.79" cy="222.02" r="1.3" fill="#0000ff"/>
<circle cx="392.21" cy="229.08" r="1.3" fill="#0000ff"/>
<circle cx="393.35" cy="230.08" r="1.3" fill="#0000ff"/>
<circle cx="378.21" cy="213.08" r="1.3" fill="#0000ff"/>
<circle cx="380.50" cy="220.65" r="1.3" fill="#0000ff"/>
<circle cx="377.55" cy="218.99" r="1.3" fill="#0000ff"/>
<circle cx="378.91" cy="217.07" r="1.3" fill="#0000ff"/>
<circle cx="389.87" cy="225.37" r="1.3" fill="#0000ff"/>
<circle cx="380.24" cy="213.90" r="1.3" fill="#0000ff"/>
<circle cx="380.11" cy="217.67" r="1.3" fill="#0000ff"/>
<circle cx="391.70" cy="229.08" r="1.3" fill="#0000ff"/>
<circle cx="394.71" cy="228.32" r="1.3" fill="#0000ff"/>
<circle cx="386.49" cy="216.00" r="1.3" fill="#0000ff"/>
<circle cx="380.27" cy="215.24" r="1.3" fill="#0000ff"/>
<circle cx="395.97" cy="229.64" r="1.3" fill="#0000ff"/>
<circle cx="392.91" cy="225.53" r="1.3" fill="#0000ff"/>
<circle cx="388.91" cy="220.76" r="1.3" fill="#0000ff"/>
<circle cx="384.08" cy="223.33" r="1.3" fill="#0000ff"/>
<circle cx="384.11" cy="211.15" r="1.3" fill="#0000ff"/>
<circle cx="381.93" cy="220.59" r="1.3" fill="#0000ff"/>
<circle cx="400.90" cy="226.54" r="1.3" fill="#0000ff"/>
<circle cx="397.27" cy="224.45" r="1.3" fill="#0000ff"/>
<circle cx="399.44" cy="230.34" r="1.3" fill="#0000ff"/>
<circle cx="395.36" cy="223.78" r="1.3" fill="#0000ff"/>
<circle cx="398.14" cy="231.23" r="1.3" fill="#0000ff"/>
<circle cx="388.62" cy="221.34" r="1.3" fill="#0000ff"/>
<circle cx="382.95" cy="219.90" r="1.3" fill="#0000ff"/>
<circle cx="380.92" cy="210.48" r="1.3" fill="#0000ff"/>
<circle cx="375.68" cy="219.08" r="1.3" fill="#0000ff"/>
<circle cx="383.49" cy="213.36" r="1.3" fill="#0000ff"/>
<circle cx="378.96" cy="215.77" r="1.3" fill="#0000ff"/>
<circle cx="394.91" cy="219.44" r="1.3" fill="#0000ff"/>
<circle cx="390.49" cy="226.76" r="1.3" fill="#0000ff"/>
<circle cx="398.63" cy="221.40" r="1.3" fill="#0000ff"/>
<circle cx="399.90" cy="232.72" r="1.3" fill="#0000ff"/>
<circle cx="378.10" cy="210.56" r="1.3" fill="#0000ff"/>
<circle cx="379.56" cy="217.80" r="1.3" fill="#0000ff"/>
<circle cx="393.85" cy="225.23" r="1.3" fill="#0000ff"/>
<circle cx="381.90" cy="213.27" r="1.3" fill="#0000ff"/>
<circle cx="393.70" cy="223.45" r="1.3" fill="#0000ff"/>
<circle cx="384.77" cy="217.36" r="1.3" fill="#0000ff"/>
<circle cx="384.86" cy="216.44" r="1.3" fill="#0000ff"/>
<circle cx="387.02" cy="218.68" r="1.3" fill="#0000ff"/>
<circle cx="398.02" cy="221.49" r="1.3" fill="#0000ff"/>
<circle cx="386.59" cy="223.38" r="1.3" fill="#0000ff"/>
<circle cx="386.35" cy="219.50" r="1.3" fill="#0000ff"/>
<circle cx="384.01" cy="212.06" r="1.3" fill="#0000ff"/>
<circle cx="395.03" cy="220.63" r="1.3" fill="#0000ff"/>
<circle cx="383.16" cy="222.47" r="1.3" fill="#0000ff"/>
<circle cx="377.06" cy="213.47" r="1.3" fill="#0000ff"/>
<circle cx="394.55" cy="226.18" r="1.3" fill="#0000ff"/>
<circle cx="386.99" cy="216.18" r="1.3" fill="#0000ff"/>
<circle cx="398.57" cy="225.18" r="1.3" fill="#0000ff"/>
<circle cx="393.78" cy="220.01" r="1.3" fill="#0000ff"/>
<circle cx="390.18" cy="227.14" r="1.3" fill="#0000ff"/>
<circle cx="395.17" cy="226.19" r="1.3" fill="#0000ff"/>
<circle cx="385.04" cy="217.93" r="1.3" fill="#0000ff"/>
<circle cx="396.30" cy="232.41" r="1.3" fill="#0000ff"/>
<circle cx="376.13" cy="211.06" r="1.3" fill="#0000ff"/>
<circle cx="398.64" cy="226.47" r="1.3" fill="#0000ff"/>
<circle cx="396.88" cy="227.17" r="1.3" fill="#0000ff"/>
<circle cx="391.03" cy="225.04" r="1.3" fill="#0000ff"/>
<circle cx="391.75" cy="221.76" r="1.3" fill="#0000ff"/>
<circle cx="382.44" cy="217.93" r="1.3" fill="#0000ff"/>
<circle cx="393.16" cy="224.64" r="1.3" fill="#0000ff"/>
<circle cx="395.96" cy="221.39" r="1.3" fill="#0000ff"/>
<circle cx="390.01" cy="217.75" r="1.3" fill="#0000ff"/>
<circle cx="380.61" cy="219.00" r="1.3" fill="#0000ff"/>
<circle cx="395.52" cy="222.87" r="1.3" fill="#0000ff"/>
<circle cx="382.07" cy="217.73" r="1.3" fill="#0000ff"/>
<circle cx="380.00" cy="212.35" r="1.3" fill="#0000ff"/>
<circle cx="401.55" cy="224.32" r="1.3" fill="#0000ff"/>
<circle cx="398.11" cy="227.51" r="1.3" fill="#0000ff"/>
<circle cx="402.09" cy="232.04" r="1.3" fill="#0000ff"/>
<circle cx="385.92" cy="222.11" r="1.3" fill="#0000ff"/>
<circle cx="378.10" cy="213.87" r="1.3" fill="#0000ff"/>
<circle cx="377.31" cy="217.53" r="1.3" fill="#0000ff"/>
<circle cx="393.64" cy="226.18" r="1.3" fill="#0000ff"/>
<circle cx="386.33" cy="222.16" r="1.3" fill="#0000ff"/>
<circle cx="387.92" cy="224.87" r="1.3" fill="#0000ff"/>
<circle cx="387.69" cy="223.37" r="1.3" fill="#0000ff"/>
<circle cx="385.75" cy="222.91" r="1.3" fill="#0000ff"/>
<circle cx="399.49" cy="229.98" r="1.3" fill="#0000ff"/>
<circle cx="398.36" cy="228.84" r="1.3" fill="#0000ff"/>
<circle cx="386.96" cy="222.30" r="1.3" fill="#0000ff"/>
<circle cx="378.95" cy="218.45" r="1.3" fill="#0000ff"/>
<circle cx="394.76" cy="221.91" r="1.3" fill="#0000ff"/>
<circle cx="386.94" cy="221.74" r="1.3" fill="#0000ff"/>
<circle cx="387.70" cy="225.21" r="1.3" fill="#0000ff"/>
<circle cx="382.17" cy="219.77" r="1.3" fill="#0000ff"/>
<circle cx="386.28" cy="225.41" r="1.3" fill="#0000ff"/>
<circle cx="389.26" cy="234.00" r="1.3" fill="#0000ff"/>
<circle cx="390.52" cy="235.67" r="1.3" fill="#0000ff"/>
<circle cx="390.36" cy="237.33" r="1.3" fill="#0000ff"/>
<circle cx="391.80" cy="239.00" r="1.3" fill="#0000ff"/>
<circle cx="392.50" cy="240.67" r="1.3" fill="#0000ff"/>
<circle cx="392.28" cy="242.33" r="1.3" fill="#0000ff"/>
<circle cx="392.06" cy="244.00" r="1.3" fill="#0000ff"/>
<circle cx="397.15" cy="227.03" r="1.3" fill="#0000ff"/>
<circle cx="397.55" cy="234.73" r="1.3" fill="#0000ff"/>
<circle cx="396.53" cy="230.52" r="1.3" fill="#0000ff"/>
<circle cx="397.94" cy="224.17" r="1.3" fill="#0000ff"/>
<circle cx="402.96" cy="247.19" r="1.3" fill="#0000ff"/>
<circle cx="396.34" cy="232.96" r="1.3" fill="#0000ff"/>
<circle cx="397.72" cy="237.19" r="1.3" fill="#0000ff"/>
<circle cx="404.34" cy="249.16" r="1.3" fill="#0000ff"/>
<circle cx="402.34" cy="199.06" r="1.3" fill="#0000ff"/>
<circle cx="399.50" cy="217.58" r="1.3" fill="#0000ff"/>
<circle cx="400.19" cy="218.60" r="1.3" fill="#0000ff"/>
<circle cx="396.60" cy="233.71" r="1.3" fill="#0000ff"/>
<circle cx="402.21" cy="210.32" r="1.3" fill="#0000ff"/>
<circle cx="399.36" cy="236.04" r="1.3" fill="#0000ff"/>
<circle cx="397.31" cy="224.46" r="1.3" fill="#0000ff"/>
<circle cx="399.50" cy="239.28" r="1.3" fill="#0000ff"/>
<circle cx="401.95" cy="207.45" r="1.3" fill="#0000ff"/>
<circle cx="399.95" cy="237.94" r="1.3" fill="#0000ff"/>
<circle cx="395.67" cy="230.25" r="1.3" fill="#0000ff"/>
<circle cx="396.57" cy="226.35" r="1.3" fill="#0000ff"/>
<circle cx="403.78" cy="248.05" r="1.3" fill="#0000ff"/>
<circle cx="396.51" cy="230.50" r="1.3" fill="#0000ff"/>
<circle cx="400.10" cy="240.07" r="1.3" fill="#0000ff"/>
<circle cx="403.08" cy="211.89" r="1.3" fill="#0000ff"/>
<circle cx="403.85" cy="202.76" r="1.3" fill="#0000ff"/>
<circle cx="402.73" cy="215.16" r="1.3" fill="#0000ff"/>
<circle cx="402.62" cy="210.44" r="1.3" fill="#0000ff"/>
<circle cx="402.75" cy="209.69" r="1.3" fill="#0000ff"/>
<circle cx="401.61" cy="206.04" r="1.3" fill="#0000ff"/>
<circle cx="397.05" cy="234.98" r="1.3" fill="#0000ff"/>
<circle cx="362.80" cy="217.70" r="1.3" fill="#0000ff"/>
<circle cx="365.00" cy="215.50" r="1.3" fill="#0000ff"/>
<circle cx="366.50" cy="219.50" r="1.3" fill="#0000ff"/>
<circle cx="368.00" cy="221.50" r="1.3" fill="#0000ff"/>
<circle cx="380.00" cy="208.50" r="1.3" fill="#0000ff"/>
<circle cx="384.00" cy="210.00" r="1.3" fill="#0000ff"/>
<circle cx="388.00" cy="211.50" r="1.3" fill="#0000ff"/>
<polygon points="408.40,175.60 410.40,175.80 426.10,209.20 442.20,247.00 452.00,262.00 461.50,272.50 460.50,276.00 457.00,275.50 447.00,263.00 439.20,248.00 423.20,209.20 408.60,180.00" fill="#00ff00" stroke="#00ff00" stroke-width="1" stroke-linejoin="round"/>
<line x1="445.16" y1="254.63" x2="446.76" y2="256.83" stroke="#e8ffe8" stroke-width="0.6"/>
<line x1="449.28" y1="260.03" x2="450.88" y2="262.23" stroke="#e8ffe8" stroke-width="0.6"/>
<line x1="452.69" y1="263.66" x2="454.29" y2="265.86" stroke="#e8ffe8" stroke-width="0.6"/>
<line x1="449.00" y1="257.34" x2="450.60" y2="259.54" stroke="#e8ffe8" stroke-width="0.6"/>
<line x1="453.62" y1="268.65" x2="455.22" y2="270.85" stroke="#e8ffe8" stroke-width="0.6"/>
<line x1="456.92" y1="268.04" x2="458.52" y2="270.24" stroke="#e8ffe8" stroke-width="0.6"/>
<line x1="452.92" y1="267.03" x2="454.52" y2="269.23" stroke="#e8ffe8" stroke-width="0.6"/>
<line x1="455.79" y1="268.12" x2="457.39" y2="270.32" stroke="#e8ffe8" stroke-width="0.6"/>
<line x1="440.90" y1="249.34" x2="442.50" y2="251.54" stroke="#e8ffe8" stroke-width="0.6"/>
<line x1="457.88" y1="270.89" x2="459.48" y2="273.09" stroke="#e8ffe8" stroke-width="0.6"/>
<line x1="444.66" y1="254.75" x2="446.26" y2="256.95" stroke="#e8ffe8" stroke-width="0.6"/>
<line x1="443.39" y1="252.28" x2="444.99" y2="254.48" stroke="#e8ffe8" stroke-width="0.6"/>
<line x1="453.67" y1="266.86" x2="455.27" y2="269.06" stroke="#e8ffe8" stroke-width="0.6"/>
<line x1="445.32" y1="252.51" x2="446.92" y2="254.71" stroke="#e8ffe8" stroke-width="0.6"/>
<line x1="453.15" y1="267.21" x2="454.75" y2="269.41" stroke="#e8ffe8" stroke-width="0.6"/>
<line x1="456.66" y1="269.50" x2="458.26" y2="271.70" stroke="#e8ffe8" stroke-width="0.6"/>
<line x1="455.11" y1="266.97" x2="456.71" y2="269.17" stroke="#e8ffe8" stroke-width="0.6"/>
<line x1="457.52" y1="269.56" x2="459.12" y2="271.76" stroke="#e8ffe8" stroke-width="0.6"/>
<line x1="454.00" y1="268.29" x2="455.60" y2="270.49" stroke="#e8ffe8" stroke-width="0.6"/>
<line x1="453.09" y1="264.93" x2="454.69" y2="267.13" stroke="#e8ffe8" stroke-width="0.6"/>
<line x1="453.51" y1="266.06" x2="455.11" y2="268.26" stroke="#e8ffe8" stroke-width="0.6"/>
<line x1="456.28" y1="269.30" x2="457.88" y2="271.50" stroke="#e8ffe8" stroke-width="0.6"/>
<line x1="445.27" y1="255.08" x2="446.87" y2="257.28" stroke="#e8ffe8" stroke-width="0.6"/>
<line x1="444.01" y1="252.20" x2="445.61" y2="254.40" stroke="#e8ffe8" stroke-width="0.6"/>
<line x1="442.64" y1="250.34" x2="444.24" y2="252.54" stroke="#e8ffe8" stroke-width="0.6"/>
<line x1="444.09" y1="252.32" x2="445.69" y2="254.52" stroke="#e8ffe8" stroke-width="0.6"/>
<circle cx="425.83" cy="213.39" r="0.5" fill="#d0ffd0"/>
<circle cx="435.25" cy="236.36" r="0.5" fill="#d0ffd0"/>
<circle cx="435.54" cy="234.97" r="0.5" fill="#d0ffd0"/>
<circle cx="427.93" cy="217.44" r="0.5" fill="#d0ffd0"/>
<circle cx="435.35" cy="234.96" r="0.5" fill="#d0ffd0"/>
<circle cx="424.39" cy="208.39" r="0.5" fill="#d0ffd0"/>
<circle cx="413.86" cy="186.75" r="0.5" fill="#d0ffd0"/>
<circle cx="428.77" cy="222.08" r="0.5" fill="#d0ffd0"/>
<circle cx="429.32" cy="220.41" r="0.5" fill="#d0ffd0"/>
<circle cx="437.88" cy="240.68" r="0.5" fill="#d0ffd0"/>
<circle cx="439.68" cy="243.85" r="0.5" fill="#d0ffd0"/>
<circle cx="426.15" cy="212.53" r="0.5" fill="#d0ffd0"/>
<circle cx="412.83" cy="184.14" r="0.5" fill="#d0ffd0"/>
<circle cx="429.08" cy="221.39" r="0.5" fill="#d0ffd0"/>
<circle cx="456.48" cy="285.98" r="1.7" fill="#00ffff"/>
<circle cx="456.48" cy="287.58" r="1.6" fill="#000"/>
<rect x="344.10" y="118.15" width="187.30" height="185.65" fill="none" stroke="#8a8a8a" stroke-width="1.3"/>
<line x1="341.10" y1="304.30" x2="344.10" y2="304.30" stroke="#bbb" stroke-width="0.8"/>
<text x="341.30" y="307.30" font-size="10.9" text-anchor="end" fill="#222">-0.1</text>
<line x1="341.10" y1="287.38" x2="344.10" y2="287.38" stroke="#bbb" stroke-width="0.8"/>
<text x="341.30" y="290.38" font-size="10.9" text-anchor="end" fill="#222">0.0</text>
<line x1="341.10" y1="270.45" x2="344.10" y2="270.45" stroke="#bbb" stroke-width="0.8"/>
<text x="341.30" y="273.45" font-size="10.9" text-anchor="end" fill="#222">0.1</text>
<line x1="341.10" y1="253.53" x2="344.10" y2="253.53" stroke="#bbb" stroke-width="0.8"/>
<text x="341.30" y="256.53" font-size="10.9" text-anchor="end" fill="#222">0.2</text>
<line x1="341.10" y1="236.61" x2="344.10" y2="236.61" stroke="#bbb" stroke-width="0.8"/>
<text x="341.30" y="239.61" font-size="10.9" text-anchor="end" fill="#222">0.3</text>
<line x1="341.10" y1="219.69" x2="344.10" y2="219.69" stroke="#bbb" stroke-width="0.8"/>
<text x="341.30" y="222.69" font-size="10.9" text-anchor="end" fill="#222">0.4</text>
<line x1="341.10" y1="202.76" x2="344.10" y2="202.76" stroke="#bbb" stroke-width="0.8"/>
<text x="341.30" y="205.76" font-size="10.9" text-anchor="end" fill="#222">0.5</text>
<line x1="341.10" y1="185.84" x2="344.10" y2="185.84" stroke="#bbb" stroke-width="0.8"/>
<text x="341.30" y="188.84" font-size="10.9" text-anchor="end" fill="#222">0.6</text>
<line x1="341.10" y1="168.92" x2="344.10" y2="168.92" stroke="#bbb" stroke-width="0.8"/>
<text x="341.30" y="171.92" font-size="10.9" text-anchor="end" fill="#222">0.7</text>
<line x1="341.10" y1="152.00" x2="344.10" y2="152.00" stroke="#bbb" stroke-width="0.8"/>
<text x="341.30" y="155.00" font-size="10.9" text-anchor="end" fill="#222">0.8</text>
<line x1="341.10" y1="135.07" x2="344.10" y2="135.07" stroke="#bbb" stroke-width="0.8"/>
<text x="341.30" y="138.07" font-size="10.9" text-anchor="end" fill="#222">0.9</text>
<line x1="341.10" y1="118.15" x2="344.10" y2="118.15" stroke="#bbb" stroke-width="0.8"/>
<text x="341.30" y="121.15" font-size="10.9" text-anchor="end" fill="#222">1.0</text>
<line x1="344.10" y1="301.80" x2="344.10" y2="305.80" stroke="#999" stroke-width="0.8"/>
<text x="344.10" y="316.7" font-size="10.9" text-anchor="middle" fill="#222">-1.50</text>
<line x1="381.56" y1="301.80" x2="381.56" y2="305.80" stroke="#999" stroke-width="0.8"/>
<text x="381.56" y="316.7" font-size="10.9" text-anchor="middle" fill="#222">-1.00</text>
<line x1="419.02" y1="301.80" x2="419.02" y2="305.80" stroke="#999" stroke-width="0.8"/>
<text x="419.02" y="316.7" font-size="10.9" text-anchor="middle" fill="#222">-0.50</text>
<line x1="456.48" y1="301.80" x2="456.48" y2="305.80" stroke="#999" stroke-width="0.8"/>
<text x="456.48" y="316.7" font-size="10.9" text-anchor="middle" fill="#222">0.00</text>
<line x1="493.94" y1="301.80" x2="493.94" y2="305.80" stroke="#999" stroke-width="0.8"/>
<text x="493.94" y="316.7" font-size="10.9" text-anchor="middle" fill="#222">0.50</text>
<line x1="531.40" y1="301.80" x2="531.40" y2="305.80" stroke="#999" stroke-width="0.8"/>
<text x="531.40" y="316.7" font-size="10.9" text-anchor="middle" fill="#222">1.00</text>
<text x="437.35" y="112.95" font-size="8.4" text-anchor="middle" fill="#222" style="stroke-width:0.12px" textLength="127" lengthAdjust="spacingAndGlyphs">Forming Limit Diagram: Study 1</text>
<text x="437.25" y="329.90" font-size="12" text-anchor="middle" fill="#222">Minor True Strain</text>
<text transform="translate(313.20,209.90) rotate(-90)" font-size="12" text-anchor="middle" fill="#222">Major True Strain</text>
<text x="417.80" y="360.8" font-family="'Liberation Serif', serif" font-size="14.5" text-anchor="middle" fill="#111" style="stroke:none">(<tspan font-weight="bold">b</tspan>)</text>
</svg>
</body></html>
